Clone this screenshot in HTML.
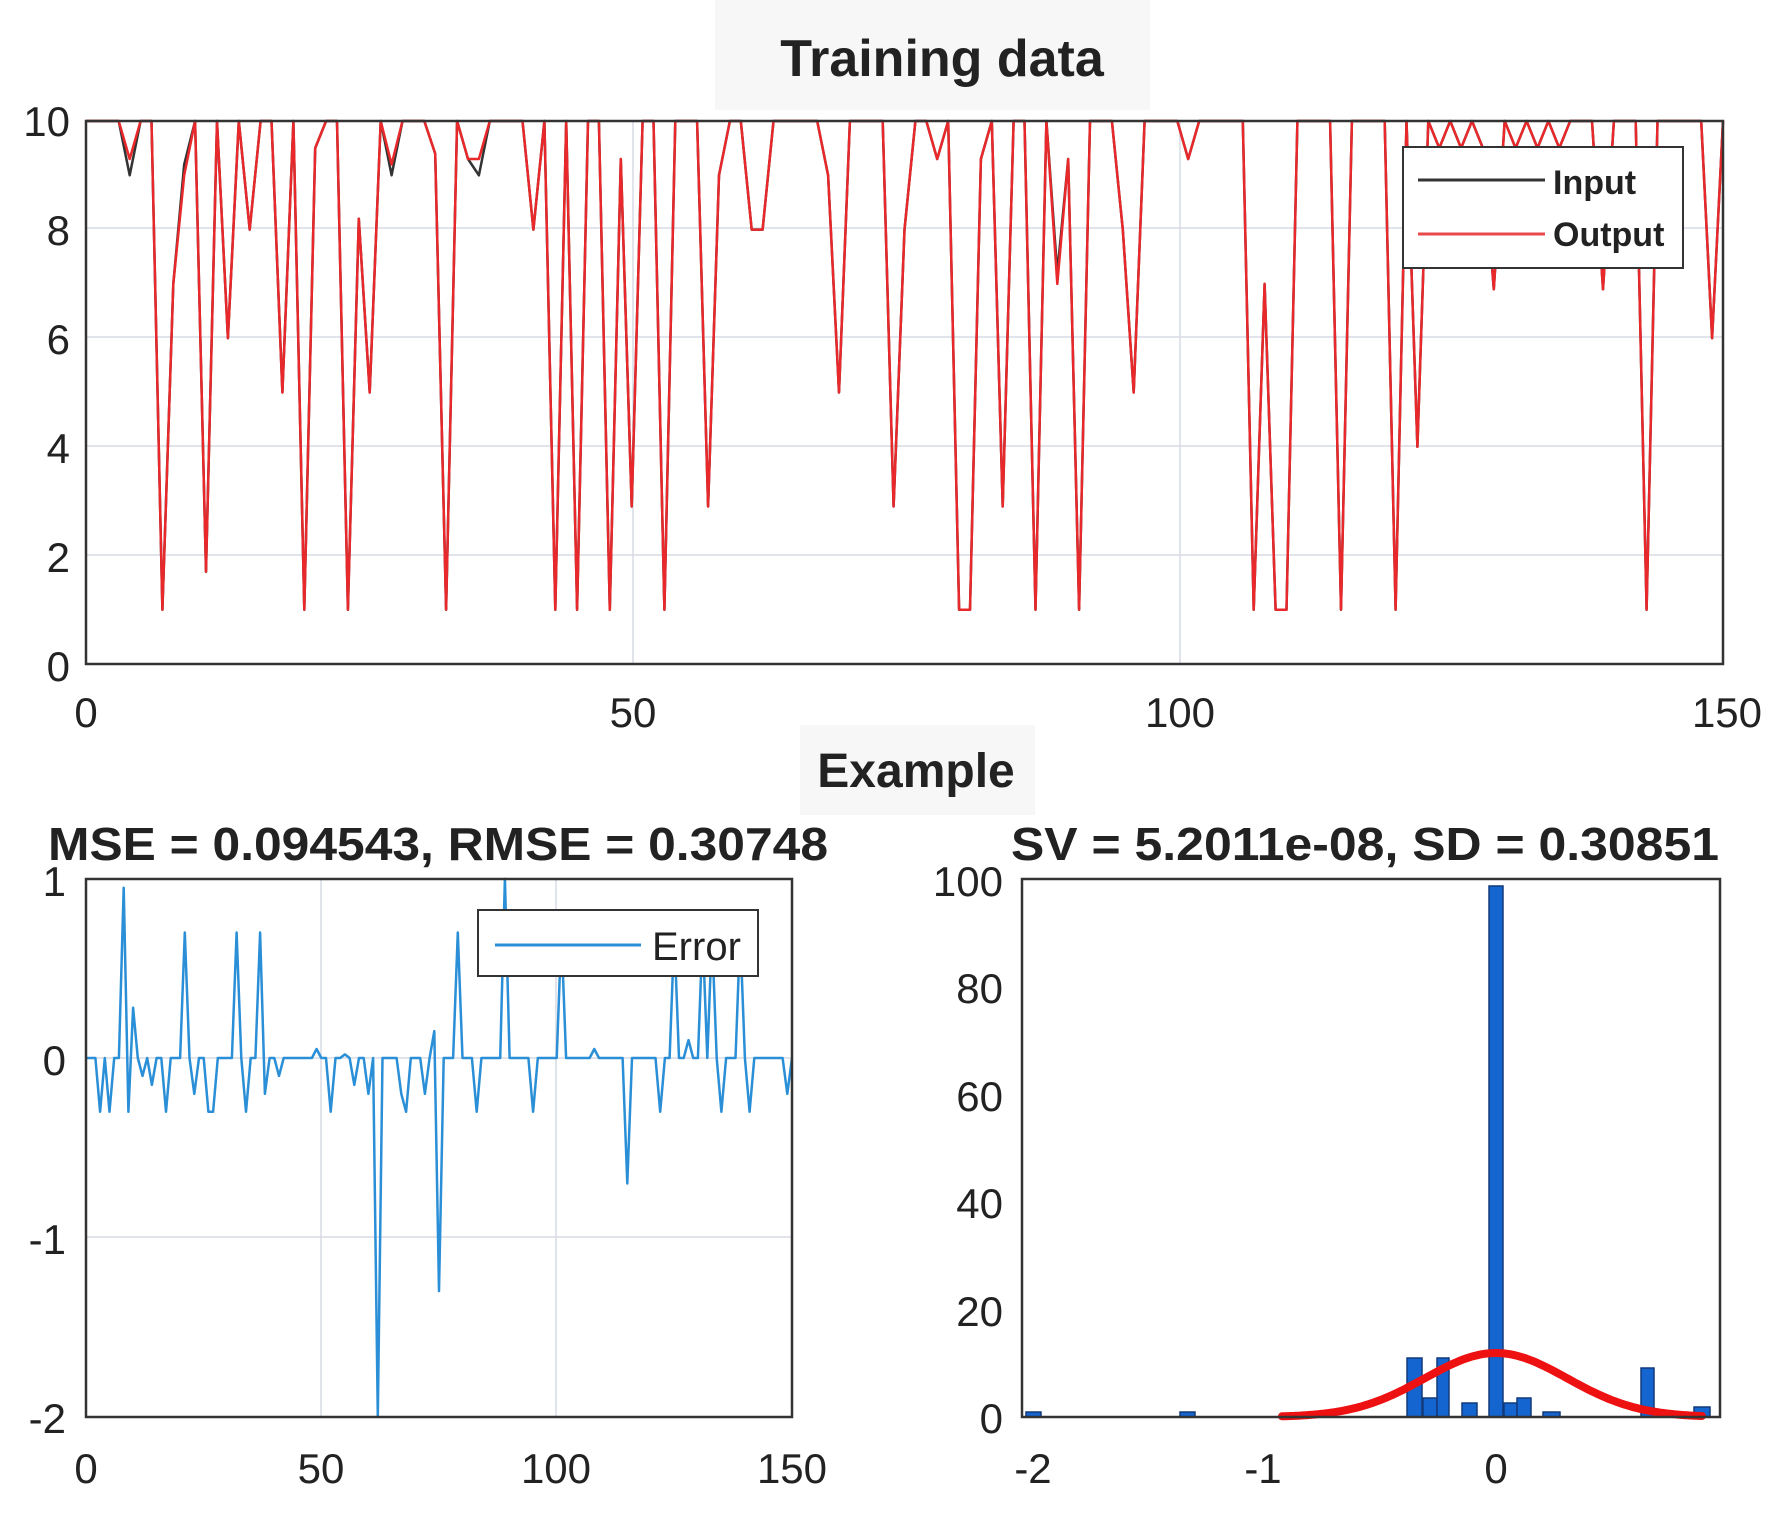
<!DOCTYPE html>
<html><head><meta charset="utf-8"><style>
html,body{margin:0;padding:0;background:#fff}
svg{display:block}
text{font-family:"Liberation Sans",Arial,sans-serif;fill:#222}
</style></head><body>
<svg id="s" width="1786" height="1516" viewBox="0 0 1786 1516" xmlns="http://www.w3.org/2000/svg">
<rect width="1786" height="1516" fill="#fff"/>
<rect x="715" y="0" width="435" height="110" fill="#f7f7f7"/>
<text x="942" y="76" font-size="52" font-weight="bold" text-anchor="middle" fill="#111">Training data</text>
<rect x="800" y="725" width="235" height="90" fill="#f7f7f7"/>
<text x="916" y="787" font-size="48" font-weight="bold" text-anchor="middle" fill="#111">Example</text>

<g stroke="#d8dbe6" stroke-width="1.5">
<line x1="86" y1="228" x2="1723" y2="228"/><line x1="86" y1="337" x2="1723" y2="337"/>
<line x1="86" y1="446" x2="1723" y2="446"/><line x1="86" y1="555" x2="1723" y2="555"/>
<line x1="633" y1="121" x2="633" y2="664"/><line x1="1180" y1="121" x2="1180" y2="664"/>
</g>
<g id="top"></g>
<rect x="86" y="121" width="1637" height="543" fill="none" stroke="#333" stroke-width="2.5"/>
<g font-size="42" text-anchor="end">
<text x="70" y="136">10</text><text x="70" y="245">8</text><text x="70" y="354">6</text>
<text x="70" y="463">4</text><text x="70" y="572">2</text><text x="70" y="681">0</text>
</g>
<g font-size="42" text-anchor="middle">
<text x="86" y="727">0</text><text x="633" y="727">50</text><text x="1180" y="727">100</text><text x="1727" y="727">150</text>
</g>
<rect x="1403" y="147" width="280" height="121" fill="#fff" stroke="#333" stroke-width="2"/>
<line x1="1418" y1="180" x2="1545" y2="180" stroke="#333" stroke-width="3"/>
<line x1="1418" y1="234" x2="1545" y2="234" stroke="#e84a4a" stroke-width="3"/>
<text x="1553" y="194" font-size="34" font-weight="bold" fill="#111">Input</text>
<text x="1553" y="246" font-size="34" font-weight="bold" fill="#111">Output</text>

<text x="438" y="860" font-size="46" font-weight="bold" text-anchor="middle" fill="#111" textLength="780" lengthAdjust="spacingAndGlyphs">MSE = 0.094543, RMSE = 0.30748</text>
<g stroke="#d8dbe6" stroke-width="1.5">
<line x1="321" y1="879" x2="321" y2="1417"/><line x1="556" y1="879" x2="556" y2="1417"/>
<line x1="86" y1="1058" x2="792" y2="1058"/><line x1="86" y1="1237" x2="792" y2="1237"/>
</g>
<g id="err"></g>
<rect x="86" y="879" width="706" height="538" fill="none" stroke="#333" stroke-width="2.5"/>
<g font-size="42" text-anchor="end">
<text x="66" y="896">1</text><text x="66" y="1075">0</text><text x="66" y="1254">-1</text><text x="66" y="1433">-2</text>
</g>
<g font-size="42" text-anchor="middle">
<text x="86" y="1483">0</text><text x="321" y="1483">50</text><text x="556" y="1483">100</text><text x="792" y="1483">150</text>
</g>
<rect x="478" y="910" width="280" height="66" fill="#fff" stroke="#333" stroke-width="2"/>
<line x1="495" y1="945" x2="641" y2="945" stroke="#2a8fd6" stroke-width="3"/>
<text x="652" y="960" font-size="40">Error</text>

<text x="1365" y="860" font-size="46" font-weight="bold" text-anchor="middle" fill="#111" textLength="708" lengthAdjust="spacingAndGlyphs">SV = 5.2011e-08, SD = 0.30851</text>
<g fill="#1565d0" stroke="#123a7a" stroke-width="1.5">
<rect x="1026" y="1412" width="15" height="5"/>
<rect x="1180" y="1412" width="15" height="5"/>
<rect x="1407" y="1358" width="15" height="59"/>
<rect x="1423" y="1398" width="14" height="19"/>
<rect x="1437" y="1358" width="12" height="59"/>
<rect x="1462" y="1403" width="15" height="14"/>
<rect x="1489" y="886" width="14" height="531"/>
<rect x="1504" y="1403" width="13" height="14"/>
<rect x="1517" y="1398" width="14" height="19"/>
<rect x="1543" y="1412" width="17" height="5"/>
<rect x="1641" y="1368" width="13" height="49"/>
<rect x="1694" y="1407" width="16" height="10"/>
</g>
<path id="curve" fill="none" stroke="#ee1111" stroke-width="8" stroke-linecap="round"/>
<rect x="1022" y="879" width="698" height="538" fill="none" stroke="#333" stroke-width="2.5"/>
<g font-size="42" text-anchor="end">
<text x="1003" y="896">100</text><text x="1003" y="1003">80</text><text x="1003" y="1111">60</text>
<text x="1003" y="1218">40</text><text x="1003" y="1326">20</text><text x="1003" y="1433">0</text>
</g>
<g font-size="42" text-anchor="middle">
<text x="1033" y="1483">-2</text><text x="1263" y="1483">-1</text><text x="1496" y="1483">0</text>
</g>
</svg>
<script>
(function(){
var NS="http://www.w3.org/2000/svg";
function pl(parent,pts,color,w){var p=document.createElementNS(NS,"polyline");p.setAttribute("points",pts.join(" "));p.setAttribute("fill","none");p.setAttribute("stroke",color);p.setAttribute("stroke-width",w);p.setAttribute("stroke-linejoin","round");document.getElementById(parent).appendChild(p);}
var out=[];for(var i=0;i<=150;i++)out[i]=10;
var d={4:9.3,7:1,8:7,9:9,11:1.7,13:6,15:8,18:5,20:1,21:9.5,24:1,25:8.2,26:5,28:9.2,32:9.4,33:1,35:9.3,36:9.3,41:8,43:1,45:1,48:1,49:9.3,50:2.9,53:1,57:2.9,58:9,61:8,62:8,68:9,69:5,74:2.9,75:8,78:9.3,80:1,81:1,82:9.3,84:2.9,87:1,89:7,90:9.3,91:1,95:8,96:5,101:9.3,107:1,108:7,109:1,110:1,115:1,120:1,122:4,124:9.5,126:9.5,128:9.5,129:6.9,131:9.5,133:9.5,135:9.5,139:6.9,143:1,149:6};
for(var k in d)out[k]=d[k];
var inp=out.slice();inp[4]=9;inp[36]=9;inp[28]=9;inp[61]=8;inp[62]=8;inp[89]=7.2;inp[115]=1;inp[122]=4;inp[149]=6;inp[9]=9.2;
function tp(a){var r=[];for(var i=0;i<a.length;i++)r.push((86+i*1637/150).toFixed(1)+","+(664-a[i]*54.3).toFixed(1));return r;}
pl("top",tp(inp),"#333",2.5);
pl("top",tp(out),"#e8282a",2.5);
var e=[];for(i=0;i<=150;i++)e[i]=0;
var sp={3:-0.3,5:-0.3,8:0.95,9:-0.3,10:0.28,12:-0.1,14:-0.15,17:-0.3,21:0.7,23:-0.2,26:-0.3,27:-0.3,32:0.7,34:-0.3,37:0.7,38:-0.2,41:-0.1,49:0.05,52:-0.3,55:0.02,57:-0.15,60:-0.2,62:-2,67:-0.2,68:-0.3,72:-0.2,74:0.15,75:-1.3,79:0.7,83:-0.3,89:1.0,95:-0.3,101:0.7,108:0.05,115:-0.7,122:-0.3,125:0.7,128:0.1,131:0.7,133:0.7,135:-0.3,139:0.7,141:-0.3,149:-0.2,150:0};
for(k in sp)e[k]=sp[k];
var r=[];for(i=0;i<=150;i++)r.push((86+i*706/150).toFixed(1)+","+(1058-e[i]*179.3).toFixed(1));
pl("err",r,"#2a8fd6",2.5);
var c="";for(var x=1282;x<=1703;x+=3){var z=(x-1496)/71;var y=1417-64*Math.exp(-z*z/2);c+=(x==1282?"M":"L")+x+","+y.toFixed(1);}
document.getElementById("curve").setAttribute("d",c);
})();
</script>
</body></html>
